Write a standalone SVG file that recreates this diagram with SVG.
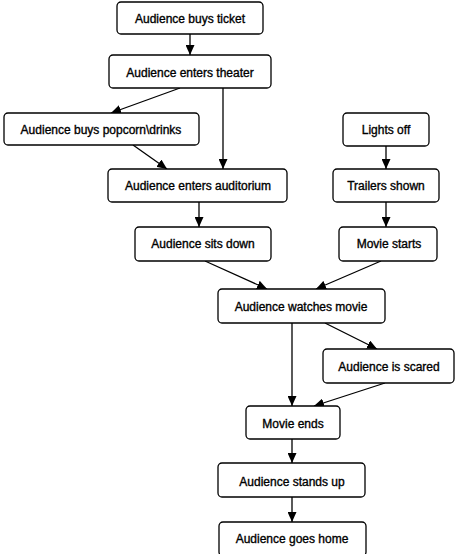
<svg xmlns="http://www.w3.org/2000/svg" width="456" height="554" viewBox="0 0 456 554">
<style>
.n rect{fill:#fff;stroke:#000;stroke-width:1.3}
.n text{font-family:"Liberation Sans",Arial,sans-serif;font-size:12px;fill:#000;stroke:#000;stroke-width:0.35;text-anchor:middle;dominant-baseline:central}
.c line{stroke:#000;stroke-width:1.3}
</style>
<defs>
<marker id="a" viewBox="0 0 10 10" refX="10" refY="5" markerWidth="10" markerHeight="9" markerUnits="userSpaceOnUse" orient="auto" preserveAspectRatio="none">
<path d="M0,0 L10,5 L0,10 z" fill="#000"/>
</marker>
</defs>
<rect width="456" height="554" fill="#fff"/>
<g class="c">
<line x1="190" y1="34" x2="190" y2="55" marker-end="url(#a)"/>
<line x1="180" y1="88" x2="111" y2="113" marker-end="url(#a)"/>
<line x1="223" y1="88" x2="223" y2="169" marker-end="url(#a)"/>
<line x1="133" y1="145" x2="167" y2="169" marker-end="url(#a)"/>
<line x1="386" y1="146" x2="386" y2="169" marker-end="url(#a)"/>
<line x1="199" y1="202" x2="199" y2="227" marker-end="url(#a)"/>
<line x1="386" y1="202" x2="386" y2="227" marker-end="url(#a)"/>
<line x1="205" y1="261" x2="267" y2="289" marker-end="url(#a)"/>
<line x1="381" y1="261" x2="316" y2="289" marker-end="url(#a)"/>
<line x1="292" y1="323" x2="292" y2="406" marker-end="url(#a)"/>
<line x1="325" y1="323" x2="377" y2="349" marker-end="url(#a)"/>
<line x1="385" y1="383" x2="314" y2="406" marker-end="url(#a)"/>
<line x1="292" y1="439" x2="292" y2="463" marker-end="url(#a)"/>
<line x1="292" y1="497" x2="292" y2="522" marker-end="url(#a)"/>
</g>
<g id="n1" class="n"><rect x="117" y="2" width="146" height="32" rx="4"/><text x="190" y="19">Audience buys ticket</text></g>
<g id="n2" class="n"><rect x="109" y="55" width="162" height="33" rx="4"/><text x="190" y="73">Audience enters theater</text></g>
<g id="n3" class="n"><rect x="4" y="113" width="195" height="32" rx="4"/><text x="101" y="130">Audience buys popcorn\drinks</text></g>
<g id="n4" class="n"><rect x="343" y="113" width="86" height="33" rx="4"/><text x="386" y="130">Lights off</text></g>
<g id="n5" class="n"><rect x="108" y="169" width="179" height="33" rx="4"/><text x="198" y="186">Audience enters auditorium</text></g>
<g id="n6" class="n"><rect x="333" y="169" width="106" height="33" rx="4"/><text x="386" y="186">Trailers shown</text></g>
<g id="n7" class="n"><rect x="135" y="227" width="136" height="34" rx="4"/><text x="203" y="244">Audience sits down</text></g>
<g id="n8" class="n"><rect x="339" y="227" width="98" height="34" rx="4"/><text x="389" y="244">Movie starts</text></g>
<g id="n9" class="n"><rect x="218" y="289" width="167" height="34" rx="4"/><text x="301" y="307">Audience watches movie</text></g>
<g id="n10" class="n"><rect x="323" y="349" width="131" height="34" rx="4"/><text x="389" y="367">Audience is scared</text></g>
<g id="n11" class="n"><rect x="246" y="406" width="94" height="33" rx="4"/><text x="293" y="424">Movie ends</text></g>
<g id="n12" class="n"><rect x="218" y="463" width="147" height="34" rx="4"/><text x="292" y="482">Audience stands up</text></g>
<g id="n13" class="n"><rect x="219" y="522" width="147" height="34" rx="4"/><text x="292" y="539">Audience goes home</text></g>
</svg>
